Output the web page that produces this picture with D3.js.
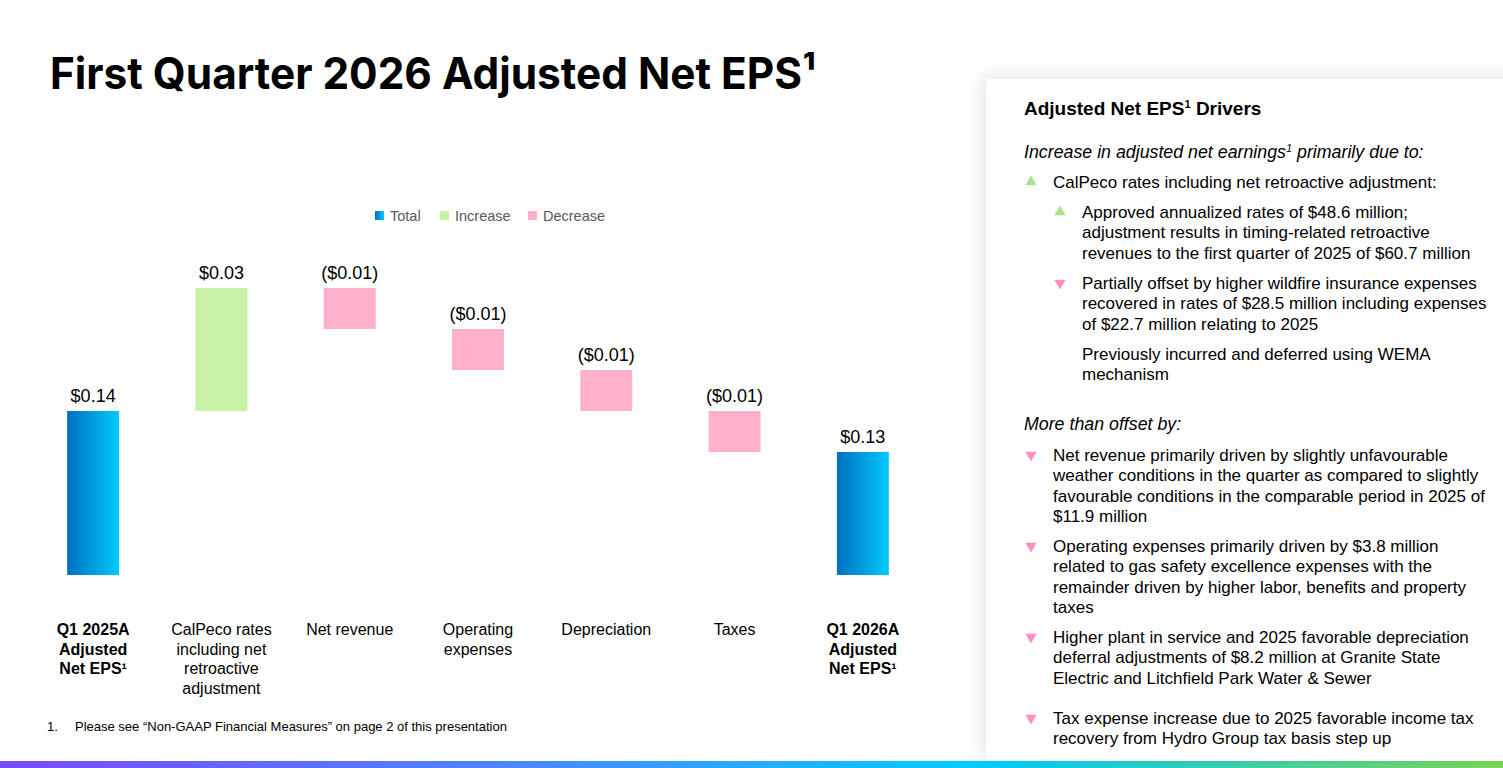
<!DOCTYPE html>
<html>
<head>
<meta charset="utf-8">
<script src="https://cdn.jsdelivr.net/npm/d3@7"></script>
<style>
  body { margin: 0; background: #fff; }
  svg { display: block; font-family: "Liberation Sans", Arial, sans-serif; }
</style>
</head>
<body>
<div id="chart"></div>
<script>
// chart data
var categories = ["q1_2025", "calpeco", "netrev", "opex", "depr", "taxes", "q1_2026"];
var categoryLines = [
  ["Q1 2025A", "Adjusted", "Net EPS¹"],
  ["CalPeco rates", "including net", "retroactive", "adjustment"],
  ["Net revenue"],
  ["Operating", "expenses"],
  ["Depreciation"],
  ["Taxes"],
  ["Q1 2026A", "Adjusted", "Net EPS¹"]
];
var barTypes = ["total", "increase", "decrease", "decrease", "decrease", "decrease", "total"];
var values = [0.14, 0.03, -0.01, -0.01, -0.01, -0.01, 0.13];
var valueLabels = ["$0.14", "$0.03", "($0.01)", "($0.01)", "($0.01)", "($0.01)", "$0.13"];
var legendNames = ["Total", "Increase", "Decrease"];
var legendTypes = ["total", "increase", "decrease"];

// side panel text
var driverBlocks = [
  { marker: "up", indent: 0, y: 188, lines: ["CalPeco rates including net retroactive adjustment:"] },
  { marker: "up", indent: 1, y: 218, lines: ["Approved annualized rates of $48.6 million;", "adjustment results in timing-related retroactive", "revenues to the first quarter of 2025 of $60.7 million"] },
  { marker: "down", indent: 1, y: 289, lines: ["Partially offset by higher wildfire insurance expenses", "recovered in rates of $28.5 million including expenses", "of $22.7 million relating to 2025"] },
  { marker: null, indent: 1, y: 360, lines: ["Previously incurred and deferred using WEMA", "mechanism"] },
  { marker: "down", indent: 0, y: 461, lines: ["Net revenue primarily driven by slightly unfavourable", "weather conditions in the quarter as compared to slightly", "favourable conditions in the comparable period in 2025 of", "$11.9 million"] },
  { marker: "down", indent: 0, y: 552, lines: ["Operating expenses primarily driven by $3.8 million", "related to gas safety excellence expenses with the", "remainder driven by higher labor, benefits and property", "taxes"] },
  { marker: "down", indent: 0, y: 643, lines: ["Higher plant in service and 2025 favorable depreciation", "deferral adjustments of $8.2 million at Granite State", "Electric and Litchfield Park Water & Sewer"] },
  { marker: "down", indent: 0, y: 724, lines: ["Tax expense increase due to 2025 favorable income tax", "recovery from Hydro Group tax basis step up"] }
];

var width = 1503, height = 768;
var colors = { increase: "#c9f2a7", decrease: "#ffb0cd" };

var svg = d3.select("#chart").append("svg")
  .attr("width", width)
  .attr("height", height);

var defs = svg.append("defs");

var tg = defs.append("linearGradient").attr("id", "totalGrad")
  .attr("x1", "0%").attr("x2", "100%").attr("y1", "0%").attr("y2", "0%");
tg.append("stop").attr("offset", "0%").attr("stop-color", "#0070c0");
tg.append("stop").attr("offset", "100%").attr("stop-color", "#00cafc");

var bg = defs.append("linearGradient").attr("id", "bottomGrad")
  .attr("x1", "0%").attr("x2", "100%").attr("y1", "0%").attr("y2", "0%");
bg.append("stop").attr("offset", "0%").attr("stop-color", "#7a4bff");
bg.append("stop").attr("offset", "35%").attr("stop-color", "#4a88ff");
bg.append("stop").attr("offset", "66%").attr("stop-color", "#00d0ff");
bg.append("stop").attr("offset", "100%").attr("stop-color", "#7ed957");

var shadow = defs.append("filter").attr("id", "panelShadow")
  .attr("x", "-10%").attr("y", "-10%").attr("width", "120%").attr("height", "120%");
shadow.append("feDropShadow")
  .attr("dx", -2).attr("dy", -2).attr("stdDeviation", 9)
  .attr("flood-color", "#000").attr("flood-opacity", 0.12);

// title (superscript as a unicode glyph so it stays one text run)
svg.append("text")
  .attr("x", 50).attr("y", 89)
  .attr("font-family", "Inter, 'Noto Sans', sans-serif")
  .attr("font-weight", 700)
  .attr("font-size", 44)
  .attr("textLength", 766)
  .attr("lengthAdjust", "spacingAndGlyphs")
  .attr("fill", "#000")
  .text("First Quarter 2026 Adjusted Net EPS\u00b9");

// waterfall layout
var bars = [];
var running = 0;
values.forEach(function (v, i) {
  var t = barTypes[i];
  var lo, hi;
  if (t === "total") {
    running = v;
    lo = null; hi = v;
  } else {
    var start = running;
    running = running + v;
    lo = Math.min(start, running); hi = Math.max(start, running);
  }
  bars.push({ key: categories[i], type: t, lo: lo, hi: hi, label: valueLabels[i], lines: categoryLines[i] });
});

var x = d3.scaleBand()
  .domain(categories)
  .range([29, 927])
  .paddingInner(0.595)
  .paddingOuter(0.2975);

var y = d3.scaleLinear()
  .domain([0.10, 0.17])
  .range([575, 288]);

var g = svg.append("g");

g.selectAll(".bar")
  .data(bars)
  .enter()
  .append("rect")
  .attr("class", "bar")
  .attr("x", (d) => x(d.key))
  .attr("width", x.bandwidth())
  .attr("y", (d) => y(d.hi))
  .attr("height", (d) => (d.lo === null ? y.range()[0] : y(d.lo)) - y(d.hi))
  .attr("fill", (d) => d.type === "total" ? "url(#totalGrad)" : colors[d.type]);

g.selectAll(".val")
  .data(bars)
  .enter()
  .append("text")
  .attr("class", "val")
  .attr("x", (d) => x(d.key) + x.bandwidth() / 2)
  .attr("y", (d) => y(d.hi) - 9)
  .attr("text-anchor", "middle")
  .attr("font-size", 18)
  .attr("fill", "#000")
  .text((d) => d.label);

// category labels
var cat = g.selectAll(".cat")
  .data(bars)
  .enter()
  .append("text")
  .attr("class", "cat")
  .attr("text-anchor", "middle")
  .attr("font-size", 16)
  .attr("font-weight", (d) => d.type === "total" ? 700 : 400)
  .attr("fill", "#000");

cat.selectAll("tspan")
  .data((d) => d.lines.map((l) => ({ l: l, cx: x(d.key) + x.bandwidth() / 2 })))
  .enter()
  .append("tspan")
  .attr("x", (d) => d.cx)
  .attr("y", (d, i) => 635 + i * 19.5)
  .text((d) => d.l);

// legend
var legendX = [375, 440, 528];
var legend = svg.selectAll(".legend")
  .data(legendNames)
  .enter()
  .append("g")
  .attr("class", "legend")
  .attr("transform", (d, i) => "translate(" + legendX[i] + ",211)");

legend.append("rect")
  .attr("width", 9).attr("height", 9)
  .attr("fill", (d, i) => legendTypes[i] === "total" ? "url(#totalGrad)" : colors[legendTypes[i]]);

legend.append("text")
  .attr("x", 15).attr("y", 9.5)
  .attr("font-size", 14.5)
  .attr("fill", "#595959")
  .text((d) => d);

// footnote
svg.append("text").attr("x", 47).attr("y", 731).attr("font-size", 13).attr("fill", "#000").text("1.");
svg.append("text").attr("x", 75).attr("y", 731).attr("font-size", 13).attr("fill", "#000")
  .text("Please see \u201cNon-GAAP Financial Measures\u201d on page 2 of this presentation");

// bottom band
svg.append("rect").attr("x", 0).attr("y", 761).attr("width", width).attr("height", 7)
  .attr("fill", "url(#bottomGrad)");

// side panel
svg.append("rect")
  .attr("x", 986).attr("y", 79).attr("width", 530).attr("height", 682)
  .attr("fill", "#fff")
  .attr("filter", "url(#panelShadow)");

var pt = svg.append("text").attr("x", 1024).attr("y", 115)
  .attr("font-size", 19).attr("font-weight", 700).attr("fill", "#000");
pt.append("tspan").text("Adjusted Net EPS");
pt.append("tspan").attr("font-size", 11).attr("dy", -7).text("1");
pt.append("tspan").attr("dy", 7).text(" Drivers");

function italicLine(yy, before, after) {
  var t = svg.append("text").attr("x", 1024).attr("y", yy)
    .attr("font-size", 17.8).attr("font-style", "italic").attr("fill", "#000");
  t.append("tspan").text(before);
  if (after) {
    t.append("tspan").attr("font-size", 11).attr("dy", -6).text("1");
    t.append("tspan").attr("dy", 6).text(after);
  }
}
italicLine(158, "Increase in adjusted net earnings", " primarily due to:");
italicLine(430, "More than offset by:");

var tri = d3.symbol().type(d3.symbolTriangle).size(55);

var blocks = svg.selectAll(".drv")
  .data(driverBlocks)
  .enter()
  .append("g")
  .attr("class", "drv");

blocks.filter((d) => d.marker)
  .append("path")
  .attr("d", tri)
  .attr("transform", (d) => "translate(" + (d.indent ? 1060 : 1031) + "," + (d.y - 6) + ")" + (d.marker === "down" ? " rotate(180)" : ""))
  .attr("fill", (d) => d.marker === "up" ? "#a8e38a" : "#ff8fc0");

blocks.append("text")
  .attr("font-size", 17)
  .attr("fill", "#000")
  .each(function (d) {
    var t = d3.select(this);
    d.lines.forEach(function (l, i) {
      t.append("tspan")
        .attr("x", d.indent ? 1082 : 1053)
        .attr("y", d.y + i * 20.4)
        .text(l);
    });
  });
</script>
</body>
</html>
